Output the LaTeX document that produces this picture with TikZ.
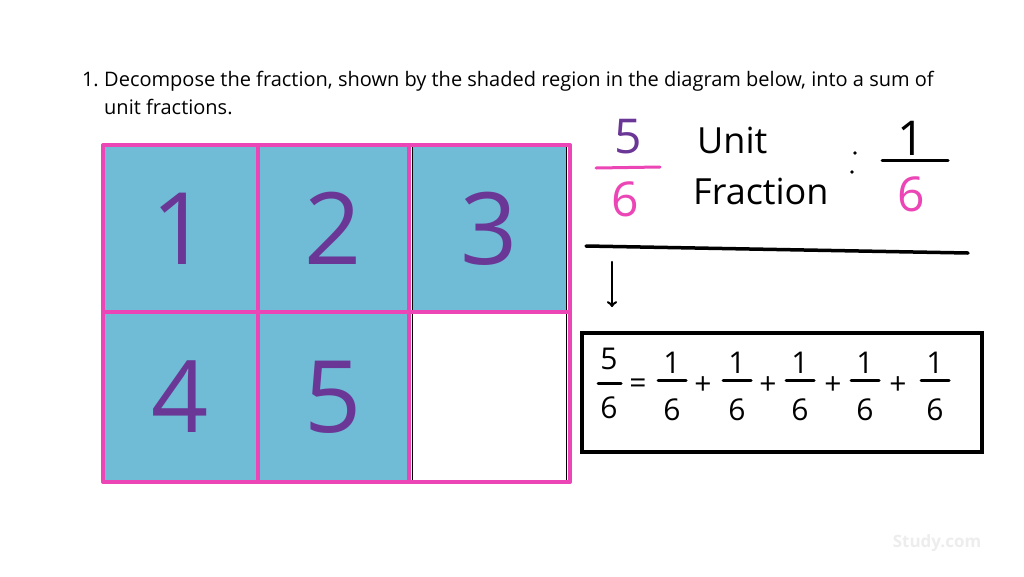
\documentclass[tikz,border=0pt]{standalone}
\usepackage{fontspec}
\setmainfont{Open Sans}
\usetikzlibrary{positioning}
\definecolor{cellblue}{HTML}{70BBD6}
\definecolor{penpink}{HTML}{EC45B5}
\definecolor{penpurple}{HTML}{6B3796}

\begin{document}
\begin{tikzpicture}[x=1pt,y=-1pt]

        \tikzstyle{cell} = [rectangle, draw=black, thick, fill=cellblue, inner sep=0pt,
            minimum width=154pt, minimum height=168pt, text=penpurple,
            font=\fontsize{100}{100}\selectfont]
        \tikzstyle{bignum} = [inner sep=0pt, font=\fontsize{48}{48}\selectfont]
        \tikzstyle{word} = [inner sep=0pt, anchor=west, font=\fontsize{36}{36}\selectfont]
        \tikzstyle{eqnum} = [inner sep=0pt, font=\fontsize{30}{30}\selectfont]
        \tikzstyle{qtext} = [inner sep=0pt, anchor=base west, font=\fontsize{20}{20}\selectfont]
        \tikzstyle{pen} = [line width=3pt, line cap=round]

        \useasboundingbox[fill=white] (0,0) rectangle (1024,576);

        % question
        \node[qtext]                   (question)  at (104,86)  {Decompose the fraction, shown by the shaded region in the diagram below, into a sum of};
        \node[qtext, anchor=base east] (qnum)      at (99,86)   {1.};
        \node[qtext]                   (question2) at (104,114) {unit fractions.};

        % grid
        \node[cell]                   (c1) at (180,228.5) {1};
        \node[cell]                   (c2) at (333,228.5) {2};
        \node[cell]                   (c3) at (489,228.5) {3};
        \node[cell]                   (c4) at (180,397)   {4};
        \node[cell]                   (c5) at (333,397)   {5};
        \node[cell, fill=white]       (c6) at (489,397)   {};
        \draw[penpink, line width=4pt, line join=round] (103,145) rectangle (570,482);
        \draw[penpink, line width=4pt] (103,312) -- (570,312);
        \draw[penpink, line width=4pt] (258,145) -- (258,482);
        \draw[penpink, line width=4pt] (409,145) -- (409,482);

        % 5/6 and unit fraction
        \node[bignum, text=penpurple] (fivetop) at (628,137) {5};
        \node[bignum, text=penpink]   (sixtop)  at (625,199) {6};
        \draw[pen, penpink] (596,168) -- (660,167);
        \node[word] (unit)     at (697,140) {Unit};
        \node[word] (fraction) at (693,191) {Fraction};
        \fill (855,153) circle (1.8pt) (852,172) circle (1.8pt);
        \node[bignum]                 (onetop)  at (911,138) {1};
        \node[bignum, text=penpink]   (sixunit) at (911,194) {6};
        \draw[pen] (882,160) -- (948,160);

        \draw[line width=3.5pt, line cap=round] (586,246) -- (968,253);
        \coordinate (arrowtop) at (612,262);
        \coordinate (arrowtip) at (612,307);
        \draw[pen, line width=2.5pt, ->] (arrowtop) -- (arrowtip);

        % decomposition
        \node[draw, line width=3.5pt, minimum width=400pt, minimum height=119pt] (sumbox) at (782,392.5) {};
        \node[eqnum] (eqfive) at (609,359) {5};
        \node[eqnum] (eqsix)  at (609,408) {6};
        \draw[pen] (598,383) -- (621,383);
        \node[eqnum] (equals) at (638,386) {=};
        \foreach \x [count=\i] in {672,737,800,865,935} {
            \node[eqnum] (one\i) at (\x,363) {1};
            \node[eqnum] (six\i) at (\x,410) {6};
            \draw[pen] (\x-14,380) -- (\x+14,380);
        }
        \foreach \x [count=\i] in {703,768,833,898} {
            \node[eqnum] (plus\i) at (\x,386) {+};
        }

        \node[text=black!7, font=\fontsize{17}{17}\selectfont\bfseries] (brand) at (937,543) {Study.com};

\end{tikzpicture}
\end{document}
